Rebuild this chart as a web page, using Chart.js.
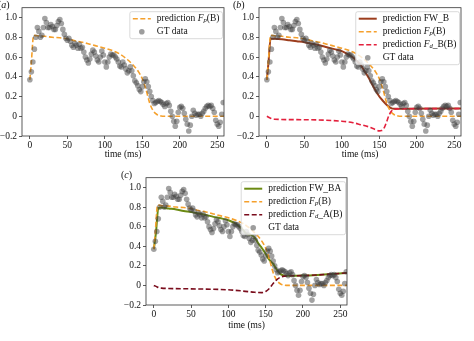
<!DOCTYPE html>
<html>
<head>
<meta charset="utf-8">
<script src="https://cdn.jsdelivr.net/npm/chart.js@4.4.0/dist/chart.umd.min.js"></script>
<style>
  html, body { margin: 0; padding: 0; background: #fff; }
  #wrap { position: relative; width: 474px; height: 341px; overflow: hidden; font-family: "Liberation Serif", serif; }
  canvas { position: absolute; }
  .tag { position: absolute; font-size: 10px; line-height: 10px; color: #111; }
</style>
</head>
<body>
<div id="wrap">
  <canvas id="chartA" width="237" height="170" style="left:0;top:0"></canvas>
  <canvas id="chartB" width="237" height="170" style="left:237px;top:0"></canvas>
  <canvas id="chartC" width="237" height="171" style="left:124px;top:170px"></canvas>
  <span class="tag" style="left:-2px;top:0">(<i>a</i>)</span>
  <span class="tag" style="left:233px;top:0">(<i>b</i>)</span>
  <span class="tag" style="left:121px;top:170px">(<i>c</i>)</span>
</div>
<script>
// ground truth samples (every 2 ms)
const gtTimes = [];
for (let t = 0; t <= 258; t += 2) gtTimes.push(t);
const gtVals = [
  0.37, 0.45, 0.55, 0.68, 0.80, 0.90, 0.86, 0.80, 0.82, 0.90,
  0.99, 0.95, 0.90, 0.90, 0.93, 0.91, 0.88, 0.88, 0.92, 0.96,
  0.98, 0.94, 0.88, 0.83, 0.79, 0.77, 0.79, 0.76, 0.72, 0.70,
  0.74, 0.72, 0.69, 0.73, 0.69, 0.70, 0.65, 0.60, 0.57, 0.54,
  0.58, 0.63, 0.67, 0.65, 0.61, 0.57, 0.55, 0.60, 0.66, 0.62,
  0.55, 0.50, 0.55, 0.60, 0.63, 0.62, 0.62, 0.60, 0.58, 0.55,
  0.51, 0.50, 0.55, 0.52, 0.48, 0.44, 0.46, 0.50, 0.46, 0.41,
  0.36, 0.34, 0.31, 0.27, 0.25, 0.30, 0.35, 0.38, 0.35, 0.30,
  0.25, 0.20, 0.16, 0.13, 0.14, 0.15, 0.16, 0.15, 0.14, 0.12,
  0.10, 0.13, 0.14, 0.11, 0.05, 0.00, -0.05, -0.10, -0.05, 0.04,
  0.09, 0.10, 0.08, 0.03, -0.03, -0.08, -0.15, -0.09, 0.00, 0.06,
  0.03, 0.01, 0.02, 0.02, 0.00, 0.03, 0.05, 0.08, 0.10, 0.11,
  0.10, 0.11, 0.08, 0.04, -0.04, -0.08, -0.10, -0.06, 0.02, 0.14
];

// prediction F_p(B)
const fpTimes = [0, 2, 5, 10, 20, 30, 40, 50, 60, 70, 80, 90, 100, 110, 120, 130, 140, 145, 150, 155, 160, 165, 170, 175, 180, 200, 259];
const fpVals = [0.37, 0.55, 0.82, 0.815, 0.81, 0.80, 0.795, 0.785, 0.765, 0.75, 0.73, 0.71, 0.69, 0.665, 0.63, 0.575, 0.50, 0.45, 0.38, 0.27, 0.13, 0.05, 0.015, 0.003, 0, 0, 0];

// prediction FW_B
const fwbTimes = [0, 2, 5, 10, 20, 30, 40, 50, 60, 70, 80, 90, 100, 110, 115, 120, 125, 130, 135, 140, 145, 150, 155, 160, 165, 170, 180, 259];
const fwbVals = [0.37, 0.53, 0.785, 0.785, 0.78, 0.77, 0.76, 0.75, 0.735, 0.72, 0.70, 0.68, 0.66, 0.62, 0.595, 0.56, 0.52, 0.46, 0.40, 0.33, 0.26, 0.20, 0.155, 0.115, 0.085, 0.075, 0.076, 0.078];

// prediction F_d_B(B)
const fdbTimes = [0, 5, 10, 50, 100, 115, 125, 135, 140, 145, 150, 153, 157, 160, 163, 166, 170, 180, 259];
const fdbVals = [0, -0.02, -0.03, -0.035, -0.05, -0.065, -0.085, -0.105, -0.12, -0.135, -0.148, -0.145, -0.11, -0.05, 0.01, 0.05, 0.072, 0.076, 0.078];

// prediction FW_BA
const fwbaTimes = [0, 3, 6, 10, 20, 30, 40, 50, 60, 70, 80, 90, 100, 110, 115, 120, 124, 128, 132, 136, 140, 145, 150, 155, 160, 165, 170, 175, 180, 200, 220, 240, 259];
const fwbaVals = [0.37, 0.55, 0.79, 0.795, 0.785, 0.775, 0.76, 0.75, 0.735, 0.72, 0.70, 0.685, 0.665, 0.63, 0.60, 0.565, 0.525, 0.52, 0.51, 0.48, 0.43, 0.38, 0.32, 0.26, 0.22, 0.16, 0.115, 0.10, 0.098, 0.10, 0.107, 0.117, 0.128];

// prediction F_d_A(B)
const fdaTimes = [0, 3, 7, 10, 50, 100, 120, 135, 145, 150, 155, 160, 165, 170, 175, 180, 200, 220, 240, 259];
const fdaVals = [0, -0.01, -0.025, -0.028, -0.035, -0.045, -0.058, -0.07, -0.074, -0.062, -0.03, 0.02, 0.06, 0.085, 0.095, 0.098, 0.10, 0.107, 0.117, 0.128];

const xTicks = [0, 50, 100, 150, 200, 250];
const yTicks = [-0.2, 0, 0.2, 0.4, 0.6, 0.8, 1.0];

const FONT = { family: "'Liberation Serif', serif", size: 9.5 };
const TEXT = "#111";
const LEG = 9.5;

function pts(xs, ys) {
  return xs.map((x, i) => ({ x: x, y: ys[i] }));
}

const lblFp = [["prediction ", "n"], ["F", "i"], ["p", "s"], ["(B)", "n"]];
const lblFdB = [["prediction ", "n"], ["F", "i"], ["d", "s"], ["_B(B)", "n"]];
const lblFdA = [["prediction ", "n"], ["F", "i"], ["d", "s"], ["_A(B)", "n"]];

function lineSet(label, rich, xs, ys, color, dash, width, order) {
  return {
    label: label,
    rich: rich,
    data: pts(xs, ys),
    showLine: true,
    pointRadius: 0,
    borderColor: color,
    backgroundColor: color,
    borderWidth: width,
    borderDash: dash,
    cubicInterpolationMode: "monotone",
    order: order,
  };
}

function gtSet() {
  return {
    label: "GT data",
    rich: [["GT data", "n"]],
    data: pts(gtTimes, gtVals),
    showLine: false,
    pointRadius: 2.8,
    pointBorderWidth: 0,
    backgroundColor: "rgba(60, 60, 60, 0.48)",
    borderColor: "rgba(60, 60, 60, 0)",
    order: 0,
  };
}

function setFont(ctx, kind) {
  if (kind === "i") ctx.font = "italic " + LEG + "px 'Liberation Serif'";
  else if (kind === "s") ctx.font = "italic " + (LEG * 0.7) + "px 'Liberation Serif'";
  else ctx.font = LEG + "px 'Liberation Serif'";
}

function drawRich(ctx, segs, x, y, draw) {
  let w = 0;
  segs.forEach(([txt, kind]) => {
    setFont(ctx, kind);
    if (draw) ctx.fillText(txt, x + w, y + (kind === "s" ? 2 : 0));
    w += ctx.measureText(txt).width;
  });
  return w;
}

const framePlugin = {
  id: "frame",
  afterDatasetsDraw(chart) {
    const ctx = chart.ctx;
    const ca = chart.chartArea;
    ctx.save();
    ctx.strokeStyle = "#333";
    ctx.lineWidth = 0.8;
    ctx.strokeRect(ca.left, ca.top, ca.right - ca.left, ca.bottom - ca.top);
    ctx.restore();
  },
};

const richLegend = {
  id: "richLegend",
  afterDraw(chart) {
    const ctx = chart.ctx;
    const ca = chart.chartArea;
    const sets = chart.data.datasets;
    ctx.save();
    ctx.textBaseline = "middle";
    let maxW = 0;
    sets.forEach((d) => {
      maxW = Math.max(maxW, drawRich(ctx, d.rich, 0, 0, false));
    });
    const rowH = 13;
    const boxW = 3 + 18 + 6 + maxW + 3;
    const boxH = rowH * sets.length + 1;
    const x0 = ca.right - 1.5 - boxW;
    const y0 = ca.top + 4;
    ctx.beginPath();
    ctx.roundRect(x0, y0, boxW, boxH, 2);
    ctx.fillStyle = "rgba(255, 255, 255, 0.8)";
    ctx.fill();
    ctx.strokeStyle = "#d0d0d0";
    ctx.lineWidth = 0.8;
    ctx.stroke();
    sets.forEach((d, i) => {
      const cy = y0 + 7 + i * rowH;
      const sx = x0 + 3;
      if (d.showLine) {
        ctx.beginPath();
        ctx.setLineDash(d.borderDash || []);
        ctx.strokeStyle = d.borderColor;
        ctx.lineWidth = d.borderWidth;
        ctx.moveTo(sx, cy);
        ctx.lineTo(sx + 18, cy);
        ctx.stroke();
        ctx.setLineDash([]);
      } else {
        ctx.beginPath();
        ctx.fillStyle = "rgba(60, 60, 60, 0.5)";
        ctx.arc(sx + 9, cy, 2.8, 0, Math.PI * 2);
        ctx.fill();
      }
      ctx.fillStyle = TEXT;
      drawRich(ctx, d.rich, sx + 24, cy, true);
    });
    ctx.restore();
  },
};

function fmtY(v) {
  if (Math.abs(v) < 1e-9) return "0";
  if (v < 0) return "\u2212" + Math.abs(v).toFixed(1);
  return v.toFixed(1);
}

function makeChart(id, datasets, padRight, xHeight) {
  return new Chart(document.getElementById(id), {
    type: "scatter",
    data: { datasets: datasets },
    options: {
      responsive: false,
      animation: false,
      layout: { padding: { top: 5, right: padRight, left: 0, bottom: 0 } },
      plugins: {
        legend: { display: false },
        tooltip: { enabled: false },
      },
      scales: {
        x: {
          type: "linear",
          min: -10.5,
          max: 259,
          afterBuildTicks: (s) => {
            s.ticks = xTicks.map((v) => ({ value: v }));
          },
          afterFit: (s) => {
            s.height = xHeight;
          },
          grid: {
            drawOnChartArea: false,
            drawTicks: true,
            tickLength: 3,
            tickColor: "#333",
            tickWidth: 0.8,
          },
          border: { display: false },
          ticks: { font: FONT, color: TEXT, padding: 1, maxRotation: 0, autoSkip: false },
          title: {
            display: true,
            text: "time (ms)",
            font: FONT,
            color: TEXT,
            padding: { top: 0, bottom: 9.5 },
          },
        },
        y: {
          type: "linear",
          min: -0.2,
          max: 1.1,
          afterBuildTicks: (s) => {
            s.ticks = yTicks.map((v) => ({ value: v }));
          },
          afterFit: (s) => {
            s.width = 22;
          },
          grid: {
            drawOnChartArea: false,
            drawTicks: true,
            tickLength: 3,
            tickColor: "#333",
            tickWidth: 0.8,
          },
          border: { display: false },
          ticks: { font: FONT, color: TEXT, padding: 2, callback: fmtY },
        },
      },
    },
    plugins: [framePlugin, richLegend],
  });
}

const ORANGE = "#f5a02c";
const DASH = [5, 2.5];

makeChart("chartA", [
  lineSet("prediction F_p(B)", lblFp, fpTimes, fpVals, ORANGE, DASH, 1.6, 1),
  gtSet(),
], 13, 34);

makeChart("chartB", [
  lineSet("prediction FW_B", [["prediction FW_B", "n"]], fwbTimes, fwbVals, "#9c3d1d", [], 2, 3),
  lineSet("prediction F_p(B)", lblFp, fpTimes, fpVals, ORANGE, DASH, 1.6, 2),
  lineSet("prediction F_d_B(B)", lblFdB, fdbTimes, fdbVals, "#e3203c", DASH, 1.6, 1),
  gtSet(),
], 13, 34);

makeChart("chartC", [
  lineSet("prediction FW_BA", [["prediction FW_BA", "n"]], fwbaTimes, fwbaVals, "#6b8a12", [], 2, 3),
  lineSet("prediction F_p(B)", lblFp, fpTimes, fpVals, ORANGE, DASH, 1.6, 2),
  lineSet("prediction F_d_A(B)", lblFdA, fdaTimes, fdaVals, "#7a0c1c", DASH, 1.6, 1),
  gtSet(),
], 14, 36);
</script>
</body>
</html>
